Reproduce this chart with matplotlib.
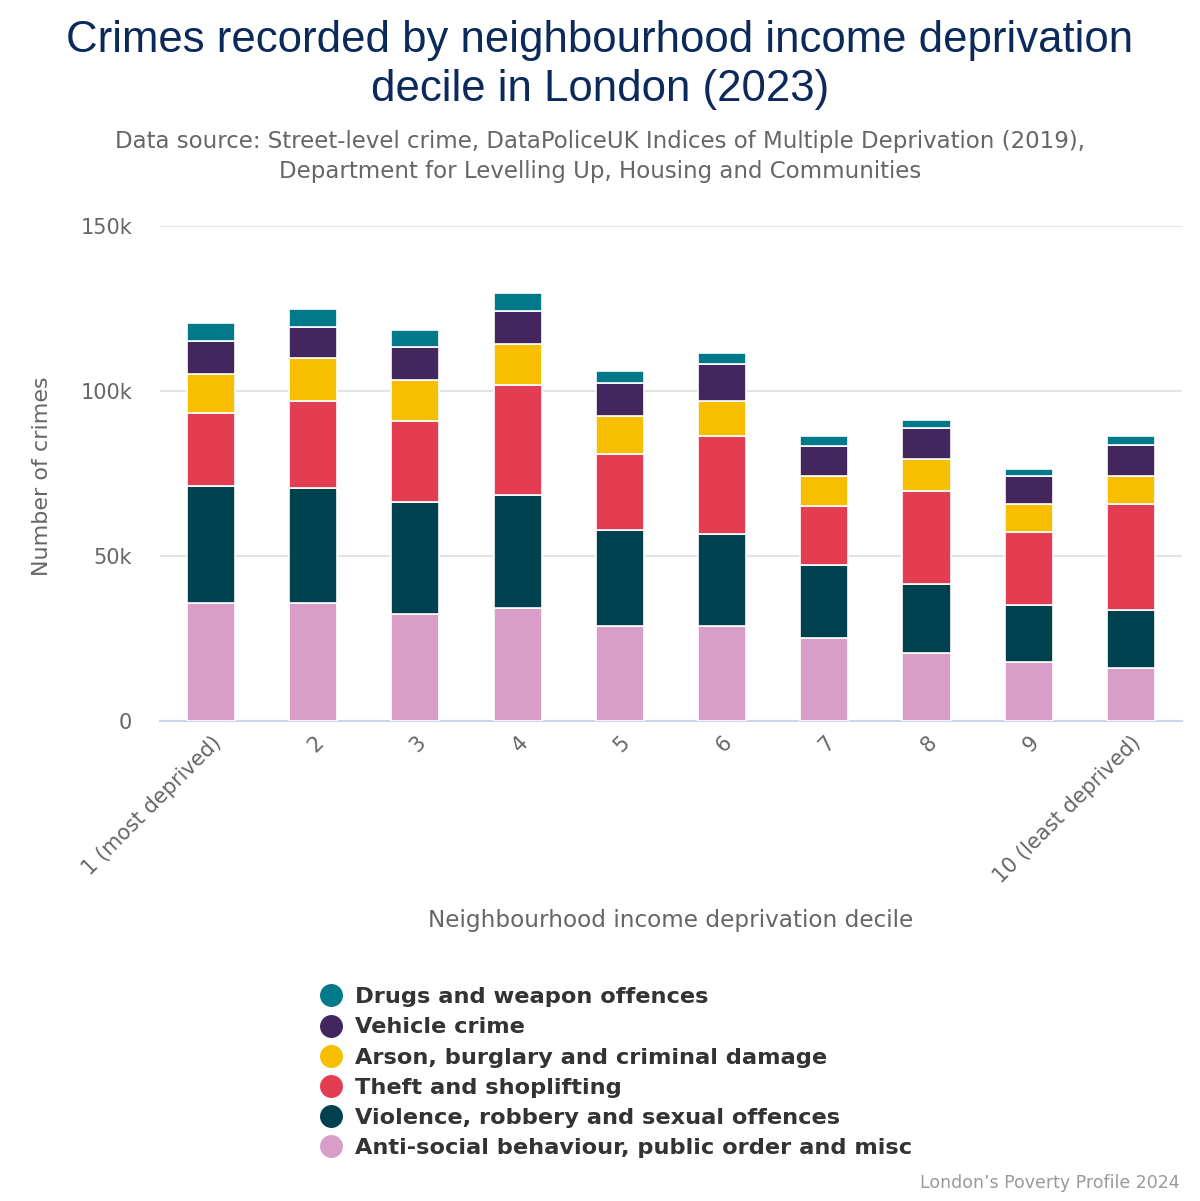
import matplotlib
matplotlib.use("Agg")
import matplotlib.pyplot as plt
from matplotlib.lines import Line2D
import numpy as np

deciles = ["1 (most deprived)", "2", "3", "4", "5", "6", "7", "8", "9", "10 (least deprived)"]
series_names = [
    "Anti-social behaviour, public order and misc",
    "Violence, robbery and sexual offences",
    "Theft and shoplifting",
    "Arson, burglary and criminal damage",
    "Vehicle crime",
    "Drugs and weapon offences",
]
asb      = [35600, 35600, 32300, 34200, 28800, 28800, 25200, 20500, 17800, 16200]
violence = [35500, 35000, 34100, 34300, 29100, 27900, 22200, 21100, 17200, 17300]
theft    = [22300, 26400, 24500, 33400, 22900, 29600, 17800, 28200, 22300, 32300]
arson    = [11900, 12900, 12300, 12200, 11600, 10700,  8900,  9500,  8500,  8400]
vehicle  = [10000,  9400, 10100, 10200, 10100, 11100,  9100,  9500,  8300,  9500]
drugs    = [ 5200,  5500,  5300,  5400,  3500,  3400,  3100,  2300,  2300,  2600]
colors = ["#d89ec7", "#004150", "#e43d51", "#f7bf00", "#44265f", "#007a8a"]

data = [asb, violence, theft, arson, vehicle, drugs]

W, H = 1200, 1201
fig = plt.figure(figsize=(12, 12.01), dpi=100)
ax = fig.add_axes([0.1333, 0.3997, 0.8517, 0.4121])

x = np.arange(len(deciles))
bottom = np.zeros(len(deciles))
for vals, c, name in zip(data, colors, series_names):
    ax.bar(x, vals, bottom=bottom, width=0.47, color=c, edgecolor="white",
           linewidth=1.2, label=name, zorder=3)
    bottom += np.array(vals)

ax.set_xlim(-0.5, len(deciles) - 0.5)
ax.set_ylim(0, 150000)
ax.set_yticks([0, 50000, 100000, 150000])
ax.set_yticklabels(["0", "50k", "100k", "150k"])
ax.grid(axis="y", color="#e3e3e3", linewidth=1.5, zorder=0)
for s in ["top", "right", "left"]:
    ax.spines[s].set_visible(False)
ax.spines["bottom"].set_color("#ccd6eb")
ax.spines["bottom"].set_linewidth(1.5)
ax.tick_params(axis="y", length=0, labelsize=15, labelcolor="#666666", pad=20)
ax.tick_params(axis="x", length=0, labelsize=15, labelcolor="#666666", pad=8)
ax.set_xticks(x)
ax.set_xticklabels(deciles, rotation=45, ha="right", rotation_mode="anchor")

fig.text(42 / W, 1 - 476 / H, "Number of crimes", rotation=90, ha="center", va="center",
         fontsize=16, color="#666666")
fig.text(671 / W, 1 - 921 / H, "Neighbourhood income deprivation decile", ha="center",
         va="center", fontsize=16.7, color="#666666")

fig.text(0.5, 1 - 20 / H, "Crimes recorded by neighbourhood income deprivation\ndecile in London (2023)",
         ha="center", va="top", fontsize=31.5, color="#0b2a5b", family="Liberation Sans",
         linespacing=1.25)
fig.text(0.5, 1 - 130 / H, "Data source: Street-level crime, DataPoliceUK Indices of Multiple Deprivation (2019),\nDepartment for Levelling Up, Housing and Communities",
         ha="center", va="top", fontsize=16.5, color="#666666", linespacing=1.4)

handles = [Line2D([0], [0], marker="o", linestyle="none", markersize=15.5,
                  markerfacecolor=c, markeredgecolor=c) for c in colors]
handles = handles[::-1]
labels = series_names[::-1]
leg = fig.legend(handles, labels, loc="upper left", bbox_to_anchor=(0.258, 1 - 976 / H),
                 frameon=False, prop={"size": 16.2, "weight": "bold"},
                 labelspacing=0.45, handletextpad=0.6, handlelength=0.9, borderpad=0)
for t in leg.get_texts():
    t.set_color("#333333")

fig.text(1180 / W, 1 - 1183 / H, "London\u2019s Poverty Profile 2024", ha="right", va="center",
         fontsize=12.5, color="#999999")

fig.savefig("out.png", dpi=100)
